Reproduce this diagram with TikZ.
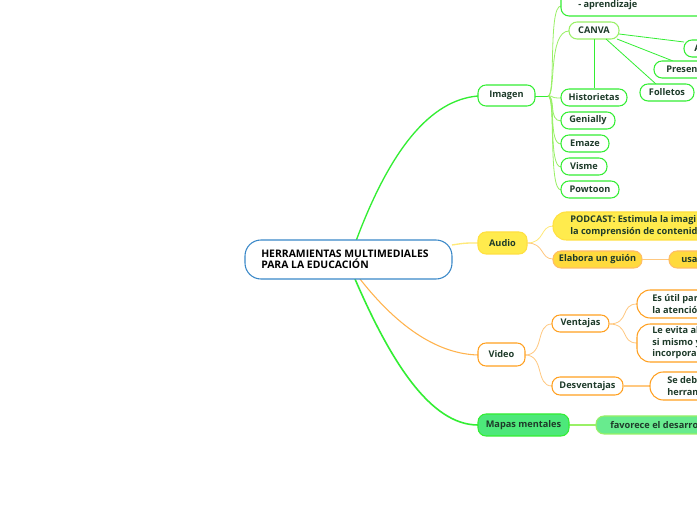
\documentclass[tikz,border=0pt]{standalone}
\usepackage{fontspec}
\setmainfont{Open Sans}
\definecolor{tx}{HTML}{1E3B2A}
\definecolor{gr}{HTML}{33EE33}
\definecolor{lg}{HTML}{99F066}
\definecolor{yl}{HTML}{FFEB4D}
\definecolor{yb}{HTML}{FFE040}
\definecolor{og}{HTML}{FFA020}
\definecolor{ol}{HTML}{FFC880}
\definecolor{gf}{HTML}{4DE87A}
\definecolor{bl}{HTML}{3A88C8}
\newcommand{\bx}[7]{\node[#6, minimum width={(#4-#2)*0.75pt}, minimum height={(#5-#3)*0.75pt}] (#1) at ({(#2+#4)/2},{(#3+#5)/2}) {#7};}
\newcommand{\bxl}[8]{\node[#6, minimum width={(#4-#2)*0.75pt}, minimum height={(#5-#3)*0.75pt}] (#1) at ({(#2+#4)/2},{(#3+#5)/2}) {};
 \node[txt, anchor=west, align=left] at (#7,{(#3+#5)/2}) {#8};}
\tikzset{x=0.75pt,y=-0.75pt,
 txt/.style={inner sep=0pt, font=\fontsize{6.9}{8.6}\selectfont\bfseries, text=tx},
 base/.style={txt, rounded corners=6pt, line width=0.8pt},
 gbox/.style={base, draw=gr, fill=white},
 lbox/.style={base, draw=lg, fill=white},
 ybox/.style={base, draw=yb, fill=yl},
 obox/.style={base, draw=og, fill=white},
 ofill/.style={base, draw=og!70, fill=yb!90!og},
 mbox/.style={base, draw=gr, fill=gf},
 mlight/.style={base, draw=lg, fill=gf!85!white},
 glink/.style={draw=gr, line width=0.6pt},
 llink/.style={draw=lg, line width=0.6pt},
 ylink/.style={draw=yb!70!white, line width=0.6pt},
 olink/.style={draw=ol, line width=0.6pt},
 oolink/.style={draw=og!80, line width=0.8pt},
}
\begin{document}
\begin{tikzpicture}
\clip (0,0) rectangle (697,520);
\fill[white] (0,0) rectangle (697,520);
\draw[glink, line width=1pt] (356,241) .. controls (390,150) and (430,100) .. (478,96);
\draw[ylink, line width=1pt] (452,245) .. controls (465,243) .. (478,243);
\draw[oolink] (360,279) .. controls (400,330) and (440,354) .. (478,355);
\draw[glink, line width=1.2pt] (355,279) .. controls (390,360) and (430,425) .. (478,425);
\bxl{ctr}{245}{240}{452}{279}{base, draw=bl, fill=white, rounded corners=12pt}{261}{\fontsize{7.8}{9.6}\selectfont\bfseries\color{black}HERRAMIENTAS MULTIMEDIALES\\\fontsize{7.8}{9.6}\selectfont\bfseries\color{black}PARA LA EDUCACIÓN}
% Imagen branch
\coordinate (ib) at (548,96);
\draw[glink] (535,96) -- (ib);
\foreach \y/\x in {6/561,31/569,98/561,121/561,144/561,167/561,190/561}
  \draw[llink] (ib) .. controls (556,96) and (548,\y) .. (\x,\y);
\bx{img}{478}{85}{535}{106}{gbox}{Imagen}
\bxl{top}{561}{-20}{760}{16}{gbox}{578}{\\[7pt]- aprendizaje}
\bx{canva}{569}{22}{619}{39}{lbox}{CANVA}
\bx{hist}{561}{89}{627}{106}{gbox}{Historietas}
\bx{gen}{561}{112}{615}{129}{gbox}{Genially}
\bx{ema}{561}{135}{609}{152}{gbox}{Emaze}
\bx{vis}{561}{158}{607}{175}{gbox}{Visme}
\bx{pow}{561}{181}{619}{198}{gbox}{Powtoon}
\draw[glink] (594,39) -- (hist.north);
\draw[glink] (619,34) -- (684,42);
\draw[glink] (617,39) -- (673,61);
\draw[glink] (606,39) -- (656,84);
\bxl{ani}{684}{40}{760}{57}{gbox}{694}{A}
\bxl{pres}{654}{61}{760}{78}{gbox}{666}{Presentaciones}
\bx{fol}{640}{84}{694}{101}{gbox}{Folletos}
% Audio
\draw[ylink] (527,243) .. controls (545,243) and (540,226) .. (553,226);
\draw[olink] (527,243) .. controls (545,243) and (540,259) .. (553,259);
\bx{aud}{478}{232}{527}{254}{ybox}{Audio}
\bxl{pod}{553}{212}{780}{240}{ybox, rounded corners=10pt}{570}{PODCAST: Estimula la imaginación y\\la comprensión de contenidos.}
\bx{gui}{553}{251}{642}{268}{ofill}{Elabora un guión}
\draw[olink] (642,259) -- (669,259);
\bxl{usa}{669}{251}{760}{268}{ofill}{681}{usa}
% Video
\draw[olink] (525,355) .. controls (545,355) and (535,324) .. (552,324);
\draw[olink] (525,355) .. controls (545,355) and (535,386) .. (552,386);
\bx{vid}{478}{343}{525}{366}{obox}{Video}
\bx{ven}{552}{315}{609}{332}{obox}{Ventajas}
\bx{des}{552}{377}{623}{395}{obox}{Desventajas}
\draw[olink] (609,324) .. controls (630,324) and (620,304) .. (637,304);
\draw[olink] (609,324) .. controls (630,324) and (620,343) .. (637,343);
\draw[olink, line width=1.2pt] (623,386) -- (650,386);
\bxl{es}{637}{290}{790}{318}{obox, rounded corners=10pt}{652}{Es útil para captar\\la atención del alumno}
\bxl{le}{637}{324}{790}{362}{obox, rounded corners=10pt}{652}{Le evita al docente el\\si mismo ya que está\\incorporado en el video}
\bxl{se}{650}{372}{790}{400}{obox, rounded corners=10pt}{667}{Se deben conocer\\herramientas}
% Mapas
\draw[llink, line width=1.2pt] (569,425) -- (596,425);
\bx{map}{478}{414}{569}{436}{mbox}{Mapas mentales}
\bxl{fav}{596}{416}{800}{434}{mlight}{610}{favorece el desarrollo de}
\end{tikzpicture}
\end{document}
